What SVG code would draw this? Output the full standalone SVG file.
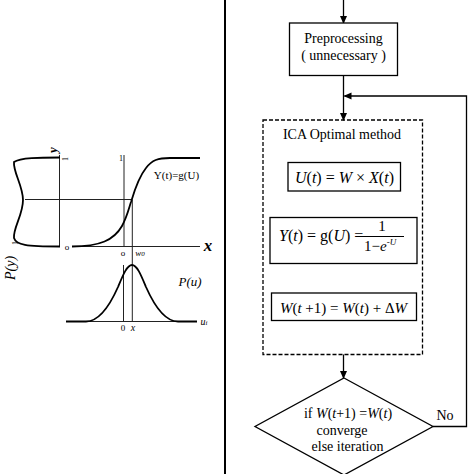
<svg xmlns="http://www.w3.org/2000/svg" width="474" height="474" viewBox="0 0 474 474">
<style>
.ln{stroke:#000;fill:none;stroke-width:1.3}
.ax{stroke:#222;fill:none;stroke-width:1}
.cv{stroke:#000;fill:none;stroke-width:1.8}
.t{font-family:"Liberation Serif","Times New Roman",serif;fill:#000}
.i{font-style:italic}
.box{fill:#fff;stroke:#000;stroke-width:1.3}
</style>
<defs>
<marker id="ah" markerWidth="8" markerHeight="8" refX="7" refY="4" orient="auto" markerUnits="userSpaceOnUse">
<path d="M0,0.5 L8,4 L0,7.5 Z" fill="#000"/>
</marker>
</defs>
<rect width="474" height="474" fill="#fff"/>
<line x1="225" y1="0" x2="225" y2="474" stroke="#000" stroke-width="2"/>

<g id="graph">
<line class="ax" x1="59.5" y1="155" x2="59.5" y2="247"/>
<line class="ax" x1="25" y1="199.5" x2="131" y2="199.5"/>
<line class="ax" x1="72" y1="246.5" x2="200" y2="246.5"/>
<line class="ax" x1="124" y1="155" x2="124" y2="246.5"/>
<line class="ax" x1="132.3" y1="199.5" x2="132.3" y2="322"/>
<line class="ax" x1="123.5" y1="265" x2="123.5" y2="321.5"/>
<line class="ax" x1="66" y1="321.5" x2="197" y2="321.5"/>
<path class="cv" d="M60,157.5 C40,157.5 20,157.5 14,162 C13,172 23,186 23,200 C23,215 13,228 14,238 C16,245 26,246.5 60,246.5"/>
<path class="cv" d="M72,246.5 C100,246.5 114,240 122,226 C127,217 129,208 131,202 C134,192 138,178 146,168 C152,160 158,158 170,158 L200,158"/>
<path class="cv" d="M66,321.5 L86,321.5 C99,321.5 110,305 118,287 C123,275 127,265 132,265 C137,265 141,275 146,287 C154,305 165,321.5 178,321.5 L197,321.5"/>
<text class="t i" x="0" y="0" font-size="13" font-weight="bold" transform="translate(57,150) rotate(-90)" text-anchor="middle">y</text>
<text class="t" x="0" y="0" font-size="8" transform="translate(68,159) rotate(-90)" text-anchor="middle">1</text>
<text class="t" x="0" y="0" font-size="8" transform="translate(18,243) rotate(-90)" text-anchor="middle">1</text>
<text class="t" x="67" y="250" font-size="9" text-anchor="middle">o</text>
<text class="t i" x="0" y="0" font-size="14" transform="translate(15,268) rotate(-90)" text-anchor="middle">P(y)</text>
<text class="t" x="121" y="161" font-size="8" text-anchor="middle">1</text>
<text class="t" x="123" y="256" font-size="9" text-anchor="middle">o</text>
<text class="t i" x="140" y="256" font-size="9" text-anchor="middle">w<tspan font-size="7">0</tspan></text>
<text class="t" x="176.5" y="179" font-size="11" text-anchor="middle">Y(t)=g(U)</text>
<text class="t i" x="208" y="251" font-size="17" font-weight="bold" text-anchor="middle">x</text>
<text class="t i" x="190" y="286" font-size="13" text-anchor="middle">P(u)</text>
<text class="t i" x="204" y="325" font-size="10" text-anchor="middle">u<tspan font-size="7">i</tspan></text>
<text class="t" x="123" y="331" font-size="9" text-anchor="middle">0</text>
<text class="t i" x="133" y="331" font-size="10" text-anchor="middle">x</text>
</g>

<g id="connectors">
<line class="ln" x1="343.5" y1="0" x2="343.5" y2="23" marker-end="url(#ah)"/>
<line class="ln" x1="343.5" y1="75" x2="343.5" y2="120" marker-end="url(#ah)"/>
<polyline class="ln" points="433,426.5 466.5,426.5 466.5,96 344.5,96" marker-end="url(#ah)"/>
<line class="ln" x1="343.5" y1="354.5" x2="343.5" y2="378" marker-end="url(#ah)"/>
<text class="t" x="445" y="420" font-size="14" text-anchor="middle">No</text>
</g>

<g id="preprocessing">
<rect class="box" x="289.5" y="23" width="108" height="52.5"/>
<text class="t" x="343.5" y="43" font-size="14" text-anchor="middle">Preprocessing</text>
<text class="t" x="343.5" y="60" font-size="14" text-anchor="middle">( unnecessary )</text>
</g>

<g id="ica">
<rect x="263" y="120" width="159.5" height="234.5" fill="none" stroke="#000" stroke-width="1.3" stroke-dasharray="4,2"/>
<text class="t" x="342" y="139" font-size="14" text-anchor="middle">ICA Optimal method</text>
</g>

<g id="eq-u">
<rect class="box" x="288" y="162.5" width="112.5" height="28.5"/>
<text class="t" x="344.5" y="182.5" font-size="16" text-anchor="middle"><tspan class="i">U</tspan>(<tspan class="i">t</tspan>) = <tspan class="i">W</tspan> × <tspan class="i">X</tspan>(<tspan class="i">t</tspan>)</text>
</g>

<g id="eq-y">
<rect class="box" x="270" y="217.5" width="147" height="46"/>
<text class="t" x="279" y="240.5" font-size="16"><tspan class="i">Y</tspan>(<tspan class="i">t</tspan>) = g(<tspan class="i">U</tspan>) =</text>
<line x1="361" y1="236.5" x2="404" y2="236.5" stroke="#000" stroke-width="1"/>
<text class="t" x="382" y="231" font-size="15" text-anchor="middle">1</text>
<text class="t" x="364" y="251" font-size="15">1−<tspan class="i">e</tspan><tspan font-size="9" dy="-6">-<tspan class="i">U</tspan></tspan></text>
</g>

<g id="eq-w">
<rect class="box" x="271.5" y="293" width="145" height="27.5"/>
<text class="t" x="343.5" y="312.5" font-size="15" text-anchor="middle"><tspan class="i">W</tspan>(<tspan class="i">t</tspan> +1) = <tspan class="i">W</tspan>(<tspan class="i">t</tspan>) + Δ<tspan class="i">W</tspan></text>
</g>

<g id="decision">
<polygon class="box" points="344,378 433,426.5 344,475 255,426.5"/>
<text class="t" x="348" y="418" font-size="14" text-anchor="middle">if <tspan class="i">W</tspan>(<tspan class="i">t</tspan>+1) =<tspan class="i">W</tspan>(<tspan class="i">t</tspan>)</text>
<text class="t" x="342" y="435" font-size="14" text-anchor="middle">converge</text>
<text class="t" x="347.5" y="451" font-size="14" text-anchor="middle">else iteration</text>
</g>
</svg>
